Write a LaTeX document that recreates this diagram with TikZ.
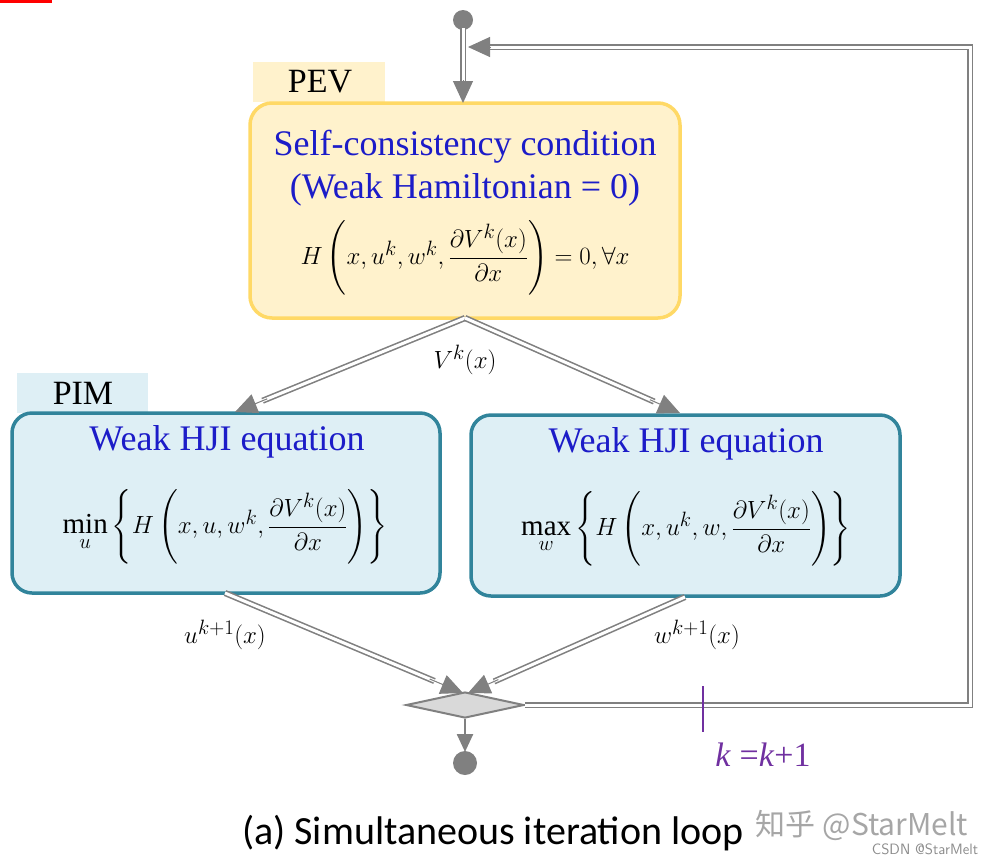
\documentclass[tikz,border=0pt]{standalone}
\usepackage{amsmath}
\usepackage{fontspec}
\setmainfont{Liberation Serif}
\newfontfamily\capfont{Carlito}
\newfontfamily\cjk{Noto Sans CJK SC}
\usetikzlibrary{arrows.meta,shapes.geometric,calc}
\definecolor{ybfill}{HTML}{FFF2CC}
\definecolor{ybdraw}{HTML}{FFD966}
\definecolor{bbfill}{HTML}{DEEFF5}
\definecolor{bbdraw}{HTML}{31849B}
\definecolor{ltxt}{HTML}{1C1CC8}
\definecolor{lg}{HTML}{808080}
\definecolor{purp}{HTML}{7030A0}
\tikzset{
  dbl/.style={draw=lg,double=white,double distance=3pt,line width=1.6pt},
  tipa/.style={-{Triangle[length=22pt,width=20pt]},draw=lg,fill=lg,line width=1pt},
  ybox/.style={draw=ybdraw,fill=ybfill,line width=3.5pt,rounded corners=22pt},
  bbox/.style={draw=bbdraw,fill=bbfill,line width=3.5pt,rounded corners=20pt},
  blt/.style={text=ltxt,font=\fontsize{36}{40}\selectfont},
  eq/.style={font=\fontsize{29}{34}\selectfont},
  lab/.style={font=\fontsize{31}{36}\selectfont}
}
\begin{document}
\begin{tikzpicture}[x=1pt,y=-1pt]
\useasboundingbox (0,0) rectangle (995,865);
\fill[red] (0,0) rectangle (52,3);
\fill[lg] (463,20) circle (10);
\coordinate (top) at (463,28);
\fill[ybfill] (253,62) rectangle (385,102);
\node[font=\fontsize{34}{38}\selectfont] (pev) at (320,82) {PEV};
\fill[bbfill] (17,373) rectangle (148,413);
\node[font=\fontsize{34}{38}\selectfont] (pim) at (83,393) {PIM};
\draw[ybox] (250,103) rectangle (680,318);
\coordinate (ytop) at (463,103);
\coordinate (ybot) at (465,318);
\node[blt] (t1) at (465,147) {Self-consistency condition};
\node[blt] (t2) at (465,190) {(Weak Hamiltonian = 0)};
\node[eq] (e1) at (465,258) {$H\left(x,u^k,w^k,\dfrac{\partial V^k(x)}{\partial x}\right)=0,\forall x$};
\draw[bbox] (12,413) rectangle (440,593);
\draw[bbox] (471,415) rectangle (900,596);
\node[blt] (t3) at (227,442) {Weak HJI equation};
\node[blt] (t4) at (686,444) {Weak HJI equation};
\node[eq] (e2) at (225,527) {$\min\limits_{u}\left\{H\left(x,u,w^k,\dfrac{\partial V^k(x)}{\partial x}\right)\right\}$};
\node[eq] (e3) at (686,529) {$\max\limits_{w}\left\{H\left(x,u^k,w,\dfrac{\partial V^k(x)}{\partial x}\right)\right\}$};
\coordinate (lt) at (235,412);
\coordinate (rt) at (680,413);
\coordinate (lb) at (225,593);
\coordinate (rb) at (685,597);
\node[diamond,draw=lg,fill=black!15,line width=2pt,minimum width=118pt,minimum height=26pt,aspect=4.5,inner sep=0pt] (dia) at (465,705) {};
\coordinate (dtl) at (463,693);
\coordinate (dtr) at (468,693);
\fill[lg] (465,763) circle (12);
\coordinate (bot) at (465,752);
% connectors
\draw[dbl] (top) -- (463,86);
\draw[tipa] (463,80) -- (ytop);
\draw[dbl] (ybot) -- ($(ybot)!0.88!(lt)$);
\draw[tipa] ($(ybot)!0.86!(lt)$) -- (lt);
\draw[dbl] (ybot) -- ($(ybot)!0.88!(rt)$);
\draw[tipa] ($(ybot)!0.86!(rt)$) -- (rt);
\draw[dbl] (lb) -- ($(lb)!0.88!(dtl)$);
\draw[tipa] ($(lb)!0.86!(dtl)$) -- (dtl);
\draw[dbl] (rb) -- ($(rb)!0.88!(dtr)$);
\draw[tipa] ($(rb)!0.86!(dtr)$) -- (dtr);
\draw[dbl] (dia.east) -- (970,705) -- (970,47) -- (484,47);
\draw[tipa] (490,47) -- (468,47);
\draw[-{Triangle[length=18pt,width=16pt]},draw=lg,fill=lg,line width=2.5pt] (dia.south) -- (bot);
% labels
\node[lab] (vk) at (465,360) {$V^k(x)$};
\node[lab] (uk) at (225,635) {$u^{k+1}(x)$};
\node[lab] (wk) at (697,635) {$w^{k+1}(x)$};
\draw[purp,line width=2.5pt] (703,686) -- (703,732);
\node[text=purp,font=\fontsize{34}{38}\selectfont] (kk) at (763,755) {\textit{k} =\textit{k}+1};
\node[font=\capfont\fontsize{40}{46}\selectfont] (cap) at (493,833) {(a) Simultaneous iteration loop};
\node[text=black!35,font=\cjk\fontsize{30}{34}\selectfont] (wm) at (862,825) {知乎 @StarMelt};
\node[text=black!45,font=\fontsize{15}{18}\selectfont\sffamily] (wm2) at (925,849) {CSDN @StarMelt};
\end{tikzpicture}
\end{document}
